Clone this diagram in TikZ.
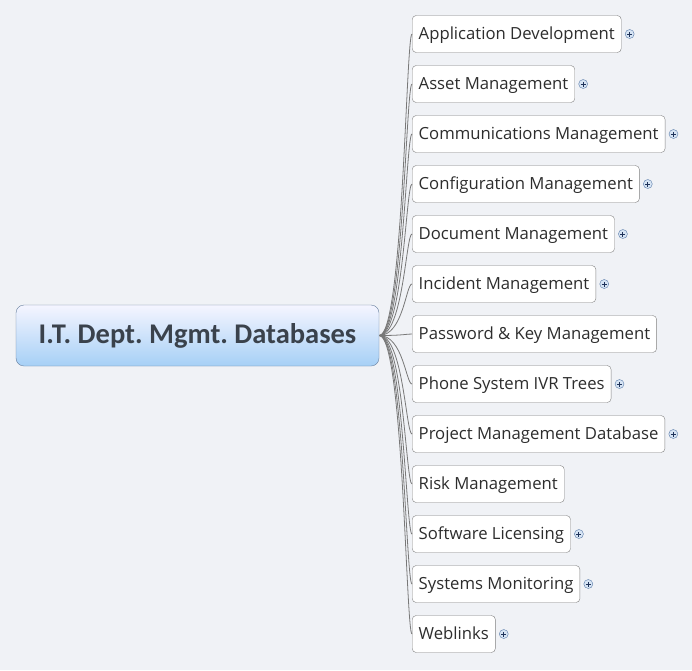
\documentclass[tikz,border=0pt]{standalone}
\usepackage{fontspec}
\setmainfont{Open Sans}
\newfontfamily\titlefont{Carlito}
\usetikzlibrary{positioning}
\frenchspacing
\definecolor{bgcol}{RGB}{240,242,246}
\definecolor{boxline}{RGB}{128,128,128}
\definecolor{textcol}{RGB}{45,45,45}
\definecolor{titlecol}{RGB}{58,66,76}
\definecolor{linkcol}{RGB}{120,120,120}
\definecolor{plusfill}{RGB}{214,228,244}
\definecolor{plusline}{RGB}{90,124,170}
\definecolor{plusmark}{RGB}{30,50,90}
\tikzset{
	root/.style={draw=plusline!70!gray, rounded corners=8pt, top color=blue!4!white, bottom color={rgb,255:red,166;green,208;blue,246}, minimum width=363pt, minimum height=61pt, text=titlecol, font=\titlefont\bfseries\fontsize{28.5}{32}\selectfont},
	topic/.style={draw=boxline, fill=white, rounded corners=4pt, anchor=west, minimum height=37pt, inner xsep=6.5pt, text height=13pt, text depth=2pt, text=textcol, font=\fontsize{16.7}{19}\selectfont},
	plus/.style={circle, draw=plusline, fill=plusfill, minimum size=9pt, inner sep=0pt, right=3.5pt of #1,
		path picture={\draw[plusmark, line width=0.9pt] (path picture bounding box.center) +(-2.5pt,0) -- +(2.5pt,0) (path picture bounding box.center) +(0,-2.5pt) -- +(0,2.5pt);}},
	link/.style={draw=linkcol, line width=0.8pt}
}
\begin{document}
\begin{tikzpicture}[x=1pt,y=-1pt]
	%background
	\fill[bgcol] (0,0) rectangle (692,670);
	\useasboundingbox (0,0) rectangle (692,670);

	%central topic
	\node[root] (root) at (197.5,335.5) {I.T. Dept. Mgmt. Databases};

	%topics
	\node[topic] (appdev) at (412,34) {Application Development};
	\node[topic] (asset) at (412,84) {Asset Management};
	\node[topic] (comms) at (412,134) {Communications Management};
	\node[topic] (config) at (412,184) {Configuration Management};
	\node[topic] (docs) at (412,234) {Document Management};
	\node[topic] (incident) at (412,284) {Incident Management};
	\node[topic] (password) at (412,334) {Password \& Key Management};
	\node[topic] (phone) at (412,384) {Phone System IVR Trees};
	\node[topic] (project) at (412,434) {Project Management Database};
	\node[topic] (risk) at (412,484) {Risk Management};
	\node[topic] (software) at (412,534) {Software Licensing};
	\node[topic] (monitor) at (412,584) {Systems Monitoring};
	\node[topic] (weblinks) at (412,634) {Weblinks};

	%expand markers
	\node[plus=appdev] (pappdev) {};
	\node[plus=asset] (passet) {};
	\node[plus=comms] (pcomms) {};
	\node[plus=config] (pconfig) {};
	\node[plus=docs] (pdocs) {};
	\node[plus=incident] (pincident) {};
	\node[plus=phone] (pphone) {};
	\node[plus=project] (pproject) {};
	\node[plus=software] (psoftware) {};
	\node[plus=monitor] (pmonitor) {};
	\node[plus=weblinks] (pweblinks) {};

	%connectors
	\draw[link] (root.east) .. controls +(24,0) and +(-6,0) .. (appdev.west);
	\draw[link] (root.east) .. controls +(24,0) and +(-6,0) .. (asset.west);
	\draw[link] (root.east) .. controls +(24,0) and +(-6,0) .. (comms.west);
	\draw[link] (root.east) .. controls +(24,0) and +(-6,0) .. (config.west);
	\draw[link] (root.east) .. controls +(24,0) and +(-6,0) .. (docs.west);
	\draw[link] (root.east) .. controls +(24,0) and +(-6,0) .. (incident.west);
	\draw[link] (root.east) .. controls +(24,0) and +(-6,0) .. (password.west);
	\draw[link] (root.east) .. controls +(24,0) and +(-6,0) .. (phone.west);
	\draw[link] (root.east) .. controls +(24,0) and +(-6,0) .. (project.west);
	\draw[link] (root.east) .. controls +(24,0) and +(-6,0) .. (risk.west);
	\draw[link] (root.east) .. controls +(24,0) and +(-6,0) .. (software.west);
	\draw[link] (root.east) .. controls +(24,0) and +(-6,0) .. (monitor.west);
	\draw[link] (root.east) .. controls +(24,0) and +(-6,0) .. (weblinks.west);
\end{tikzpicture}
\end{document}
